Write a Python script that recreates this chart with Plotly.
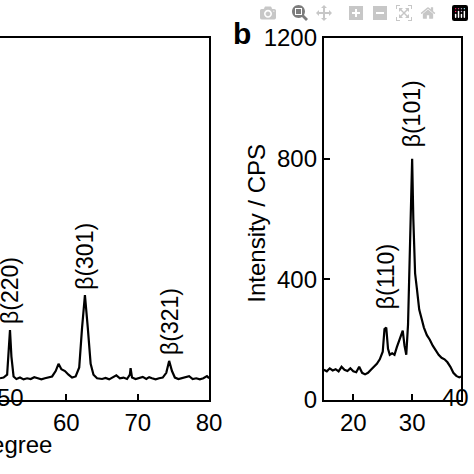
import plotly.graph_objects as go

# panel a (right part visible): 2theta / degree vs intensity (arb.)
a_x = [50.7, 51.2, 51.7, 52.0, 52.1, 52.3, 52.6, 53, 53.5, 54, 54.5, 55, 55.5, 56, 56.5, 57, 57.5,
       58, 58.5, 58.9, 59.3, 59.8, 60.3, 60.8, 61.3, 61.8, 62.2, 62.6, 63.0, 63.4, 63.8, 64.3, 65,
       65.5, 66, 66.5, 67, 67.5, 68, 68.5, 68.9, 69.0, 69.2, 69.7, 70.2, 70.7, 71.2, 71.6, 72, 72.5,
       73, 73.5, 74, 74.4, 74.8, 75.2, 75.7, 76.2, 76.7, 77.2, 77.7, 78.2, 78.7, 79.2, 79.7, 80]
a_y = [60, 62, 70, 150, 193, 120, 65, 58, 62, 57, 60, 58, 63, 60, 57, 60, 62,
       65, 80, 100, 85, 80, 70, 62, 65, 90, 200, 290, 200, 100, 70, 60, 58,
       61, 57, 62, 68, 60, 62, 58, 70, 88, 62, 58, 60, 64, 58, 63, 60, 57,
       60, 62, 75, 108, 80, 62, 58, 60, 62, 66, 58, 60, 57, 60, 66, 60]

# panel b (left part visible): 2theta vs Intensity / CPS
b_x = [15, 15.5, 16, 16.5, 17, 17.5, 18, 18.5, 19, 19.5, 20, 20.5, 21, 21.5, 22, 22.5, 23, 23.5,
       24, 24.5, 25, 25.3, 25.6, 25.9, 26.2, 26.6, 27, 27.4, 27.8, 28.1, 28.4, 28.7, 29, 29.3,
       29.6, 29.8, 30.0, 30.2, 30.5, 30.8, 31.2, 31.6, 32, 32.5, 33, 33.5, 34, 34.5, 35, 35.5,
       36, 36.5, 37, 37.5, 38, 38.3]
b_y = [100, 95, 105, 98, 102, 95, 110, 100, 96, 105, 95, 92, 110, 90, 85, 90, 100, 110,
       120, 135, 160, 235, 240, 170, 150, 155, 150, 175, 200, 215, 230, 180, 150, 250,
       450, 650, 800, 600, 420, 370, 300, 270, 240, 215, 200, 180, 165, 150, 140, 135,
       125, 110, 90, 80, 75, 78]

a_labels = [(52.2, 205, "β(220)"), (62.6, 300, "β(301)"), (74.5, 120, "β(321)")]
b_labels = [(25.5, 295, "β(110)"), (30.0, 830, "β(101)")]

font = dict(family="Liberation Sans, Arial", size=24, color="black")
lfont = dict(family="Liberation Sans, Arial", size=23, color="black")
fig = go.Figure()
fig.add_trace(go.Scatter(x=a_x, y=a_y, mode="lines", line=dict(color="black", width=2.2),
                         xaxis="x", yaxis="y"))
fig.add_trace(go.Scatter(x=b_x, y=b_y, mode="lines", line=dict(color="black", width=2.2),
                         xaxis="x2", yaxis="y2"))

ax = dict(showline=True, linecolor="black", linewidth=2, ticks="inside", ticklen=6,
          tickwidth=1.5, tickcolor="black", showgrid=False, zeroline=False, tickfont=font)
fig.update_layout(
    width=474, height=474, showlegend=False,
    paper_bgcolor="white", plot_bgcolor="white",
    margin=dict(l=0, r=0, t=38, b=74),
    xaxis=dict(ax, domain=[0, 215 / 474], range=[50.7, 80], dtick=10, mirror=True),
    yaxis=dict(ax, range=[0, 1000], showticklabels=False, ticks="", mirror=True),
    xaxis2=dict(ax, domain=[333 / 474, 1], range=[15, 38.3], dtick=10, anchor="y2", mirror=True),
    yaxis2=dict(ax, range=[0, 1200], dtick=400, anchor="x2", mirror=True),
)

for x, y, t in a_labels:
    fig.add_annotation(x=x, y=y, xref="x", yref="y", text=t, textangle=-90, showarrow=False,
                       yanchor="bottom", font=lfont)
for x, y, t in b_labels:
    fig.add_annotation(x=x, y=y, xref="x2", yref="y2", text=t, textangle=-90, showarrow=False,
                       yanchor="bottom", font=lfont)

fig.add_annotation(x=-5 / 474, y=-0.036, xref="paper", yref="paper", text="50",
                   showarrow=False, font=font)
fig.add_annotation(x=484 / 474, y=-0.036, xref="paper", yref="paper", text="40",
                   showarrow=False, font=font)
fig.add_annotation(x=56 / 474, y=-0.166, xref="paper", yref="paper", text="2θ / degree",
                   xanchor="right", showarrow=False, font=font)
fig.add_annotation(x=264 / 474, y=0.489, xref="paper", yref="paper", text="Intensity / CPS",
                   textangle=-90, showarrow=False, font=font)
fig.add_annotation(x=249 / 474, y=1.064, xref="paper", yref="paper", text="<b>b</b>",
                   showarrow=False, font=dict(family="Liberation Sans, Arial", size=30, color="black"))

fig.write_html("out.html", post_script="document.body.style.margin='0';document.body.style.overflow='hidden';")
